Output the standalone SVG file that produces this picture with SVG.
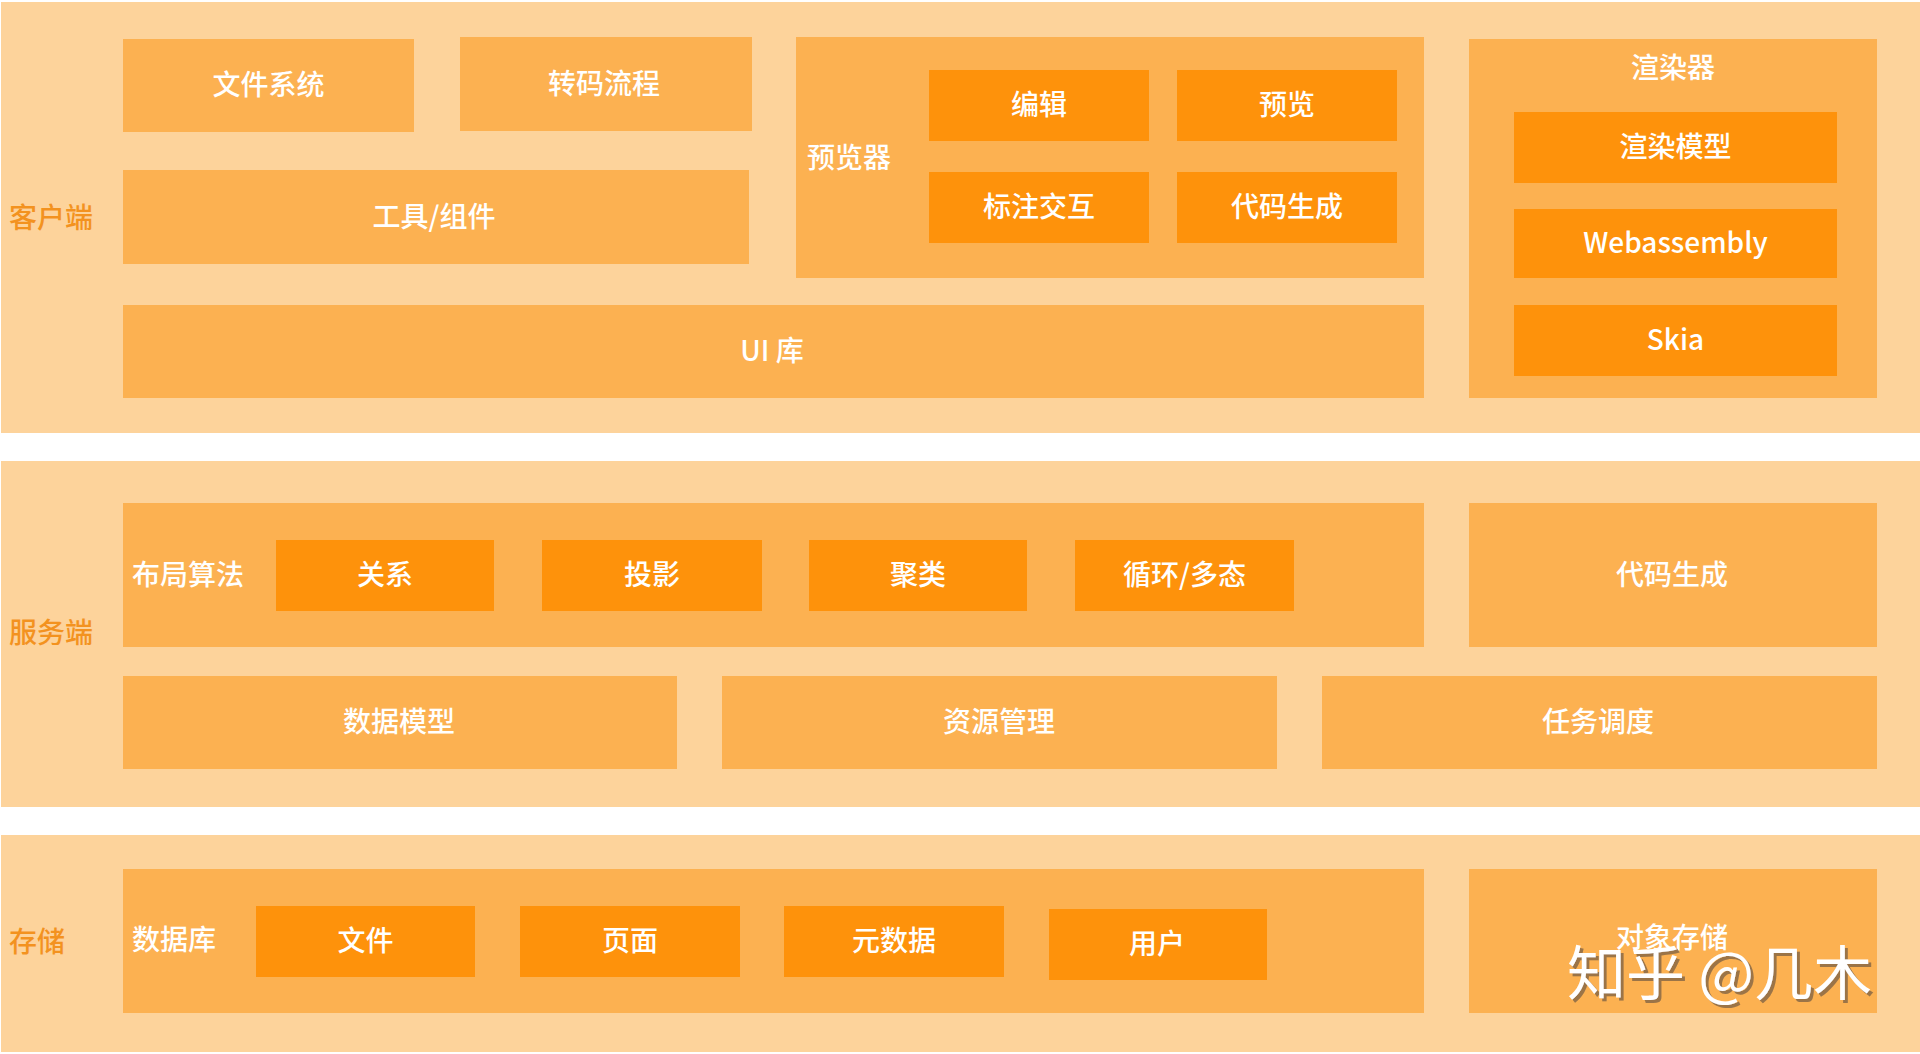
<svg xmlns="http://www.w3.org/2000/svg" width="1920" height="1054" viewBox="0 0 1920 1054">
<defs>
<style>
.band{fill:#FDD39B}
.mid{fill:#FCB151}
.dark{fill:#FE920B}
text{font-family:"Noto Sans CJK SC","Noto Sans",sans-serif;font-size:28px;font-weight:500;fill:#FFFFFF;dominant-baseline:central}
.c{text-anchor:middle}
.lbl{fill:#F3921F}
.wm{font-size:59px;font-weight:400;dominant-baseline:auto}
</style>
<filter id="sh" x="-10%" y="-20%" width="130%" height="160%">
<feDropShadow dx="3" dy="3" stdDeviation="0.6" flood-color="#8A6A45" flood-opacity="0.85"/>
</filter>
</defs>
<rect width="1920" height="1054" fill="#FFFFFF"/>

<g id="band-client">
<rect class="band" x="1" y="2" width="1919" height="431"/>
<text class="lbl" x="9" y="215.5">客户端</text>
</g>
<g id="band-server">
<rect class="band" x="1" y="461" width="1919" height="346"/>
<text class="lbl" x="9" y="630.5">服务端</text>
</g>
<g id="band-storage">
<rect class="band" x="1" y="835" width="1919" height="217"/>
<text class="lbl" x="9" y="939.5">存储</text>
</g>

<g id="n-filesystem"><rect class="mid" x="123" y="39" width="291" height="93"/><text class="c" x="268.5" y="83">文件系统</text></g>
<g id="n-transcode"><rect class="mid" x="460" y="37" width="292" height="94"/><text class="c" x="604" y="81.5">转码流程</text></g>
<g id="n-tools"><rect class="mid" x="123" y="170" width="626" height="94"/><text class="c" x="434" y="214.5">工具/组件</text></g>
<g id="n-uilib"><rect class="mid" x="123" y="305" width="1301" height="93"/><text class="c" x="772" y="349">UI 库</text></g>

<g id="n-previewer">
<rect class="mid" x="796" y="37" width="628" height="241"/>
<text x="807" y="156">预览器</text>
</g>
<g id="n-edit"><rect class="dark" x="929" y="70" width="220" height="71"/><text class="c" x="1039" y="103">编辑</text></g>
<g id="n-preview"><rect class="dark" x="1177" y="70" width="220" height="71"/><text class="c" x="1287" y="103">预览</text></g>
<g id="n-annotate"><rect class="dark" x="929" y="172" width="220" height="71"/><text class="c" x="1039" y="205">标注交互</text></g>
<g id="n-codegen-client"><rect class="dark" x="1177" y="172" width="220" height="71"/><text class="c" x="1287" y="205">代码生成</text></g>

<g id="n-renderer">
<rect class="mid" x="1469" y="39" width="408" height="359"/>
<text class="c" x="1673" y="66">渲染器</text>
</g>
<g id="n-rendermodel"><rect class="dark" x="1514" y="112" width="323" height="71"/><text class="c" x="1675.5" y="145">渲染模型</text></g>
<g id="n-wasm"><rect class="dark" x="1514" y="209" width="323" height="69"/><text class="c" x="1675.5" y="241">Webassembly</text></g>
<g id="n-skia"><rect class="dark" x="1514" y="305" width="323" height="71"/><text class="c" x="1675.5" y="338">Skia</text></g>

<g id="n-layout">
<rect class="mid" x="123" y="503" width="1301" height="144"/>
<text x="132" y="573">布局算法</text>
</g>
<g id="n-relation"><rect class="dark" x="276" y="540" width="218" height="71"/><text class="c" x="385" y="573">关系</text></g>
<g id="n-projection"><rect class="dark" x="542" y="540" width="220" height="71"/><text class="c" x="652" y="573">投影</text></g>
<g id="n-cluster"><rect class="dark" x="809" y="540" width="218" height="71"/><text class="c" x="918" y="573">聚类</text></g>
<g id="n-loop"><rect class="dark" x="1075" y="540" width="219" height="71"/><text class="c" x="1184.5" y="573">循环/多态</text></g>
<g id="n-codegen-server"><rect class="mid" x="1469" y="503" width="408" height="144"/><text class="c" x="1672" y="573">代码生成</text></g>
<g id="n-datamodel"><rect class="mid" x="123" y="676" width="554" height="93"/><text class="c" x="399" y="720">数据模型</text></g>
<g id="n-resource"><rect class="mid" x="722" y="676" width="555" height="93"/><text class="c" x="999" y="720">资源管理</text></g>
<g id="n-schedule"><rect class="mid" x="1322" y="676" width="555" height="93"/><text class="c" x="1598" y="720">任务调度</text></g>

<g id="n-database">
<rect class="mid" x="123" y="869" width="1301" height="144"/>
<text x="132" y="938">数据库</text>
</g>
<g id="n-file"><rect class="dark" x="256" y="906" width="219" height="71"/><text class="c" x="365.5" y="939">文件</text></g>
<g id="n-page"><rect class="dark" x="520" y="906" width="220" height="71"/><text class="c" x="630" y="939">页面</text></g>
<g id="n-meta"><rect class="dark" x="784" y="906" width="220" height="71"/><text class="c" x="894" y="939">元数据</text></g>
<g id="n-user"><rect class="dark" x="1049" y="909" width="218" height="71"/><text class="c" x="1157" y="942">用户</text></g>
<g id="n-objstore"><rect class="mid" x="1469" y="869" width="408" height="144"/><text class="c" x="1672" y="936">对象存储</text></g>

<g id="connectors"></g>

<text class="wm" x="1567" y="995" filter="url(#sh)">知乎 @几木</text>
</svg>
